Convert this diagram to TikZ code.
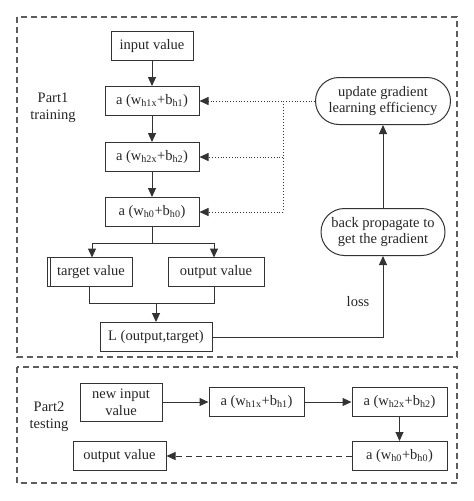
\documentclass[tikz,border=0pt]{standalone}
\usepackage{fontspec}
\setmainfont{Liberation Serif}
\usetikzlibrary{arrows.meta,shapes.misc}
\definecolor{ln}{HTML}{333333}
\tikzset{
  box/.style={draw=ln, line width=1pt, minimum height=29pt, inner sep=1pt, font=\fontsize{14.5}{16}\selectfont, text=black!85},
  pill/.style={draw=ln, line width=1pt, rounded rectangle, inner sep=1pt, align=center, font=\fontsize{14.5}{16.5}\selectfont, text=black!85},
  arr/.style={draw=ln, line width=1pt, -{Triangle[length=9pt,width=8pt]}},
  ln/.style={draw=ln, line width=1pt},
  dotarr/.style={draw=ln, line width=0.8pt, dotted, -{Triangle[length=9pt,width=8pt]}},
  dashbox/.style={draw=ln!80, line width=1.1pt, dash pattern=on 6pt off 4pt},
  lbl/.style={font=\fontsize{14.5}{17}\selectfont, align=center, text=black!85}
}
\newcommand{\act}[2]{a (w\textsubscript{#1}+b\textsubscript{#2})}
\begin{document}
\begin{tikzpicture}[x=1pt,y=-1pt]
\useasboundingbox (0,0) rectangle (474,501);
% outer dashed boxes
\draw[dashbox] (17,17) rectangle (457,357);
\draw[dashbox] (17,367) rectangle (457,483);
% Part 1
\node[lbl] (p1) at (53,108) {Part1\\training};
\node[box, minimum width=82pt] (in) at (152,46) {input value};
\node[box, minimum width=94pt] (a1) at (152,101) {\act{h1x}{h1}};
\node[box, minimum width=94pt] (a2) at (152,157) {\act{h2x}{h2}};
\node[box, minimum width=94pt] (a0) at (152,212) {\act{h0}{h0}};
\node[box, minimum width=85pt] (tv) at (89.5,272) {\hspace{3pt}target value};
\draw[ln] ([xshift=4pt]tv.north west) -- ([xshift=4pt]tv.south west);
\node[box, minimum width=96pt] (ov) at (216,272) {output value};
\node[box, minimum width=112pt] (L) at (156,337) {L (output,target)};
\node[pill, minimum width=126pt, minimum height=47pt] (bp) at (383,232) {back propagate to\\get the gradient};
\node[pill, minimum width=137pt, minimum height=47pt] (up) at (383,101) {update gradient\\learning efficiency};
\node[lbl] (loss) at (358,302) {loss};
\coordinate (br) at (152,243);
\coordinate (jn) at (156,303);
\coordinate (dv) at (283,101);
\draw[arr] (in) -- (a1);
\draw[arr] (a1) -- (a2);
\draw[arr] (a2) -- (a0);
\draw[ln] (a0) -- (br);
\draw[arr] (br) -| (92,257.5);
\draw[arr] (br) -| (214,257.5);
\draw[ln] (89,286.5) |- (214,303) -- (214,286.5);
\draw[arr] (jn) -- (L);
\draw[arr] (L.east) -| (bp.south);
\draw[arr] (bp) -- (up);
\draw[dotarr] (up.west) -- (a1.east);
\draw[ln, dotted, line width=0.8pt] (dv) -- (283,212);
\draw[dotarr] (283,157) -- (a2.east);
\draw[dotarr] (283,212) -- (a0.east);
% Part 2
\node[lbl] (p2) at (49,417) {Part2\\testing};
\node[box, minimum width=82pt, minimum height=38pt, align=center, font=\fontsize{14.5}{17}\selectfont] (nin) at (121,402) {new input\\value};
\node[box, minimum width=95pt] (b1) at (256.5,402) {\act{h1x}{h1}};
\node[box, minimum width=95pt] (b2) at (399.5,402) {\act{h2x}{h2}};
\node[box, minimum width=95pt] (b0) at (399.5,456) {\act{h0}{h0}};
\node[box, minimum width=93pt] (ov2) at (119.5,456) {output value};
\draw[arr] (nin) -- (b1);
\draw[arr] (b1) -- (b2);
\draw[arr] (b2) -- (b0);
\draw[arr, dash pattern=on 6pt off 4pt] (b0) -- (ov2);
\end{tikzpicture}
\end{document}
